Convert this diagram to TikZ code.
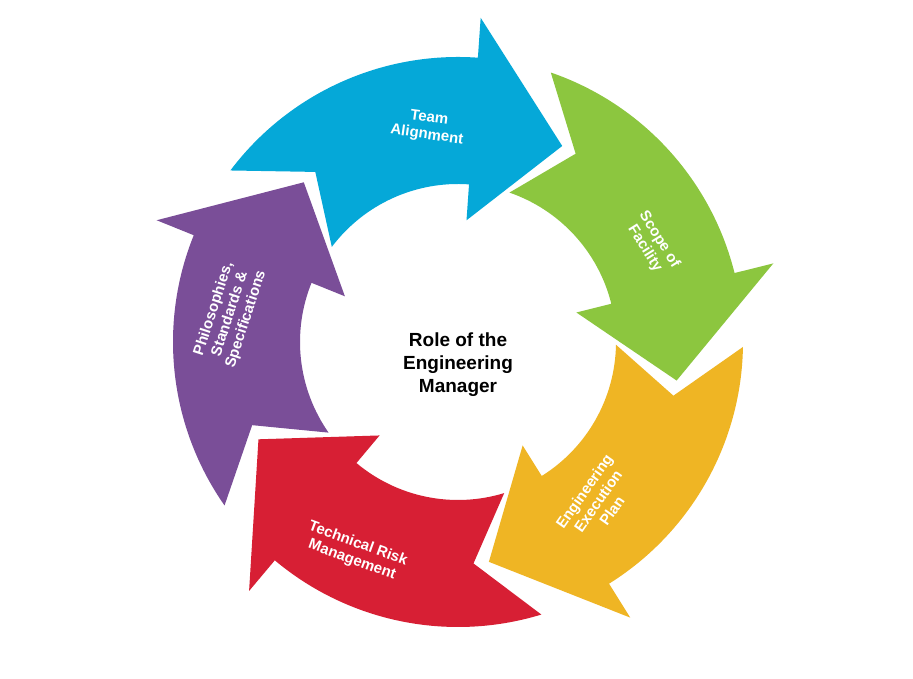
\documentclass[tikz,border=0pt]{standalone}
\usepackage{fontspec}
\setmainfont{Liberation Sans}
\definecolor{cblue}{HTML}{05A8D8}
\definecolor{cgreen}{HTML}{8CC63F}
\definecolor{cyellow}{HTML}{EFB524}
\definecolor{cred}{HTML}{D71F34}
\definecolor{cpurple}{HTML}{7A4E98}
\newcommand{\cyclearrow}[3]{% tip angle, previous tip angle, colour
 \pgfmathsetmacro{\tip}{#1}\pgfmathsetmacro{\hb}{#1+24}
 \pgfmathsetmacro{\tl}{#2+9}\pgfmathsetmacro{\nt}{#2-4}
 \fill[#3] (\tl:285) arc[start angle=\tl, end angle=\hb, radius=285pt]
  -- (\hb:325) -- (\tip:222) -- (\hb:122) -- (\hb:158)
  arc[start angle=\hb, end angle=\tl, radius=158pt] -- (\nt:222) -- cycle;}
\begin{document}
\begin{tikzpicture}[x=1pt,y=1pt,lbl/.style={text=white,font=\bfseries\fontsize{15}{17}\selectfont,align=center}]
\fill[white] (0,0) rectangle (913,679);
\useasboundingbox (0,0) rectangle (913,679);
\begin{scope}[shift={(458,337)}]
\cyclearrow{62}{134}{cblue}
\cyclearrow{-10}{62}{cgreen}
\cyclearrow{-82}{-10}{cyellow}
\cyclearrow{-154}{-82}{cred}
\cyclearrow{134}{-154+360}{cpurple}
\end{scope}
\node[font=\bfseries\fontsize{19}{23}\selectfont,align=center] (c) at (458,314) {Role of the\\Engineering\\Manager};
\node[lbl,rotate=-8] (t1) at (428,552) {Team\\Alignment};
\node[lbl,rotate=-58] (t2) at (652,435) {Scope of\\Facility};
\node[lbl,rotate=55] (t3) at (598,178) {Engineering\\Execution\\Plan};
\node[lbl,rotate=-20] (t4) at (355,127) {Technical Risk\\Management};
\node[lbl,rotate=72] (t5) at (230,365) {Philosophies,\\Standards \&\\Specifications};
\end{tikzpicture}
\end{document}
